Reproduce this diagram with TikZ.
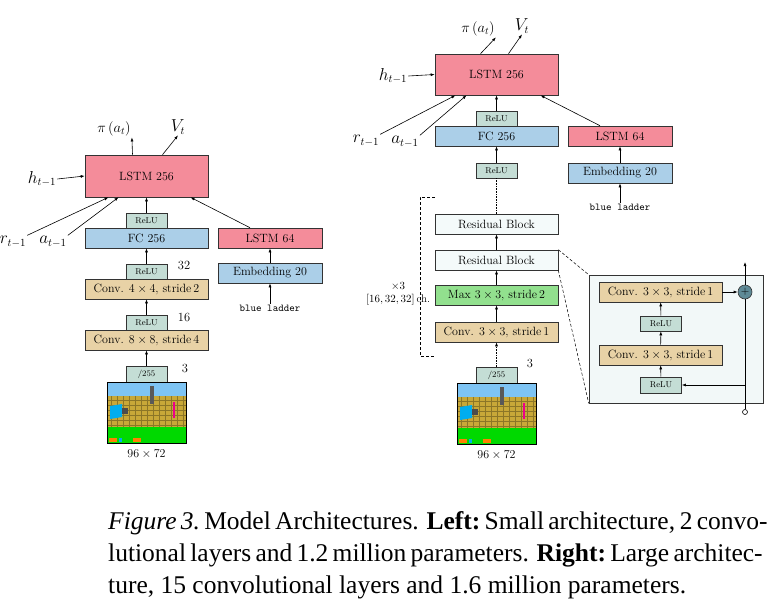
\documentclass[tikz,border=0pt]{standalone}
\usepackage{fontspec}
\newfontfamily\capfont{Liberation Serif}
\usetikzlibrary{arrows.meta}
\definecolor{lstmc}{HTML}{F48C9A}
\definecolor{fcc}{HTML}{ABCFE8}
\definecolor{convc}{HTML}{E8D2A6}
\definecolor{reluc}{HTML}{C4DDD5}
\definecolor{maxc}{HTML}{92E08E}
\definecolor{resc}{HTML}{F4FAFA}
\definecolor{insc}{HTML}{F2F8F8}
\definecolor{plusc}{HTML}{5E8A96}
\definecolor{skyc}{HTML}{7EC4F4}
\definecolor{wallc}{HTML}{C8A838}
\newcommand\myscene[2]{%
 \begin{scope}[shift={(#1,#2)}]
 \fill[skyc] (0,0) rectangle (79,22);
 \fill[wallc] (0,14) rectangle (79,45);
 \foreach \yy in {18,23,...,43} \draw[wallc!70!black,line width=0.3pt] (0,\yy) -- (79,\yy);
 \foreach \xx in {4,10,...,76} \draw[wallc!70!black,line width=0.2pt] (\xx,14) -- (\xx,45);
 \fill[green!85!black] (0,45) rectangle (79,61);
 \fill[gray!70!black] (43,4) rectangle (47,22);
 \fill[cyan] (3,24) -- (15,22) -- (15,35) -- (3,37) -- cycle;
 \fill[black!70] (15,26) rectangle (21,32);
 \fill[magenta] (66,20) rectangle (68,36);
 \fill[orange] (2,56) rectangle (10,60);
 \fill[orange] (26,56) rectangle (34,60);
 \fill[cyan] (12,56) rectangle (15,60);
 \draw[black,line width=0.6pt] (0,0) rectangle (79,61);
 \end{scope}}
\begin{document}
\begin{tikzpicture}[x=1pt,y=-1pt,
 box/.style={draw=black!80,line width=0.6pt,minimum height=20pt,inner sep=0pt,font=\fontsize{12}{13}\selectfont},
 wide/.style={box,minimum width=123pt},
 lstm/.style={wide,fill=lstmc},
 fc/.style={wide,fill=fcc},
 conv/.style={wide,fill=convc},
 side/.style={box,minimum width=104pt},
 relu/.style={draw=black!80,line width=0.6pt,fill=reluc,minimum width=41pt,minimum height=15pt,inner sep=0pt,font=\fontsize{8.5}{9}\selectfont},
 arr/.style={-{Latex[length=4pt,width=3pt]},line width=0.6pt},
 lab/.style={font=\fontsize{14}{16}\selectfont,inner sep=1pt},
 big/.style={font=\fontsize{16}{18}\selectfont,inner sep=1pt},
 num/.style={font=\fontsize{12.5}{14}\selectfont,inner sep=0pt},
 tt/.style={font=\ttfamily\fontsize{10.5}{12}\selectfont,inner sep=1pt}]
\useasboundingbox (0,0) rectangle (771,611);
% ---------- LEFT ----------
\node[lstm,minimum height=42pt] (lstmL) at (146.5,176) {LSTM 256};
\node[relu] (reluL1) at (146.5,220.5) {ReLU};
\node[fc] (fcL) at (146.5,238) {FC 256};
\node[side,fill=lstmc] (l64L) at (270,238) {LSTM 64};
\node[side,fill=fcc] (embL) at (270,273) {Embedding 20};
\node[tt] (bl) at (270,308) {blue ladder};
\node[relu] (reluL2) at (146.5,271.5) {ReLU};
\node[conv] (conv2L) at (146.5,289) {Conv. $4\times4,$ stride\,2};
\node[relu] (reluL3) at (146.5,322.5) {ReLU};
\node[conv] (conv1L) at (146.5,340) {Conv. $8\times8,$ stride\,4};
\node[relu,minimum height=16pt] (divL) at (146.5,374) {/255};
\myscene{107}{382}
\node[num] (sizeL) at (146.5,454) {$96\times72$};
\node[num] (n32L) at (184,265) {32};
\node[num] (n16L) at (184,317) {16};
\node[num] (n3L) at (185,368) {3};
\node[lab] (piL) at (114,129) {$\pi\left(a_t\right)$};
\node[big] (vL) at (178,127) {$V_t$};
\node[big] (hL) at (42,179) {$h_{t-1}$};
\node[big] (rL) at (13,242) {$r_{t-1}$};
\node[big] (aL) at (53,242) {$a_{t-1}$};
\draw[arr] (divL) -- (conv1L);
\draw[arr] (reluL3) -- (conv2L);
\draw[arr] (reluL2) -- (fcL);
\draw[arr] (reluL1) -- (lstmL);
\draw[arr] (embL) -- (l64L);
\draw[arr] (bl) -- (embL);
\draw[arr] ([xshift=-20pt]l64L.north) -- ([xshift=44pt]lstmL.south);
\draw[arr] (rL.north east) -- ([xshift=-38pt]lstmL.south);
\draw[arr] (aL.north east) -- ([xshift=-28pt]lstmL.south);
\draw[arr] (hL.east) -- (lstmL.west);
\draw[arr] ([xshift=-14pt]lstmL.north) -- (piL.south east);
\draw[arr] ([xshift=16pt]lstmL.north) -- (vL.south);
% ---------- RIGHT ----------
\node[lstm,minimum height=41pt] (lstmR) at (496.5,74.5) {LSTM 256};
\node[relu] (reluR1) at (496.5,119) {ReLU};
\node[fc] (fcR) at (496.5,136) {FC 256};
\node[side,fill=lstmc] (l64R) at (620,136) {LSTM 64};
\node[side,fill=fcc] (embR) at (620,173) {Embedding 20};
\node[tt] (blR) at (620,207) {blue ladder};
\node[relu] (reluR2) at (496.5,170.5) {ReLU};
\node[wide,fill=resc] (res1) at (496.5,224) {Residual Block};
\node[wide,fill=resc] (res2) at (496.5,260) {Residual Block};
\node[wide,fill=maxc] (maxR) at (496.5,295) {Max $3\times3,$ stride\,2};
\node[conv] (convR) at (496.5,332) {Conv. $3\times3,$ stride\,1};
\node[relu,minimum height=16pt] (divR) at (496.5,375) {/255};
\myscene{457}{383}
\node[num] (sizeR) at (496.5,455) {$96\times72$};
\node[num] (n3R) at (530,363) {3};
\node[num,align=center,font=\fontsize{11}{13}\selectfont] (x3) at (398,294) {$\times3$\\$[16,32,32]$\,ch.};
\node[lab] (piR) at (478,29) {$\pi\left(a_t\right)$};
\node[big] (vR) at (522,26) {$V_t$};
\node[big] (hR) at (393,76) {$h_{t-1}$};
\node[big] (rR) at (366,141) {$r_{t-1}$};
\node[big] (aR) at (405,142) {$a_{t-1}$};
\draw[arr,densely dotted] (divR) -- (convR);
\draw[arr] (convR) -- (maxR);
\draw[arr] (maxR) -- (res2);
\draw[arr] (res2) -- (res1);
\draw[densely dotted,line width=0.6pt] (res1) -- (reluR2);
\draw[arr] (reluR2) -- (fcR);
\draw[arr] (reluR1) -- (lstmR);
\draw[arr] (embR) -- (l64R);
\draw[arr] (blR) -- (embR);
\draw[arr] ([xshift=-20pt]l64R.north) -- ([xshift=44pt]lstmR.south);
\draw[arr] (rR.north east) -- ([xshift=-41pt]lstmR.south);
\draw[arr] (aR.north east) -- ([xshift=-30pt]lstmR.south);
\draw[arr] (hR.east) -- (lstmR.west);
\draw[arr] ([xshift=-16pt]lstmR.north) -- (piR.south east);
\draw[arr] ([xshift=12pt]lstmR.north) -- (vR.south);
\coordinate (bt) at (435,197);
\coordinate (bb) at (435,356);
\draw[densely dashed,line width=0.5pt] (bt) -- ++(-15,0) |- (bb);
% inset
\node[draw=black!80,line width=0.6pt,fill=insc,minimum width=174pt,minimum height=128pt,inner sep=0pt] (ins) at (676,339) {};
\draw[densely dashed,line width=0.5pt] (res2.north east) -- (ins.north west);
\draw[densely dashed,line width=0.5pt] (res2.south east) -- (ins.south west);
\node[conv] (ic2) at (660.5,292) {Conv. $3\times3,$ stride\,1};
\node[relu] (ir2) at (661,323.5) {ReLU};
\node[conv] (ic1) at (660.5,355) {Conv. $3\times3,$ stride\,1};
\node[relu,minimum height=16pt] (ir1) at (661,385) {ReLU};
\node[circle,draw=black!80,fill=plusc,minimum size=14pt,inner sep=0pt,line width=0.6pt,font=\fontsize{11}{11}\selectfont] (plus) at (745,292) {$+$};
\node[circle,draw,fill=white,minimum size=5pt,inner sep=0pt,line width=0.6pt] (inp) at (745,412) {};
\coordinate (outp) at (745,262);
\coordinate (tap) at (745,385);
\draw[arr] (ir1) -- (ic1);
\draw[arr] (ic1) -- (ir2);
\draw[arr] (ir2) -- (ic2);
\draw[arr] (ic2) -- (plus);
\draw[line width=0.6pt] (inp) -- (plus);
\draw[arr] (plus) -- (outp);
\draw[arr] (tap) -- (ir1);
% caption
\begin{scope}[every node/.style={anchor=base west,inner sep=0pt,font=\capfont\fontsize{25.5}{28}\selectfont}]
\node (c1) at (108,529) {\makebox[652pt][s]{\itshape Figure\ 3.\upshape\ Model Architectures. \bfseries Left:\mdseries\ Small architecture, 2 convo-}};
\node (c2) at (108,561) {\makebox[652pt][s]{lutional layers and 1.2 million parameters. \bfseries Right:\mdseries\ Large architec-}};
\node (c3) at (108,593) {ture, 15 convolutional layers and 1.6 million parameters.};
\end{scope}
\end{tikzpicture}
\end{document}
